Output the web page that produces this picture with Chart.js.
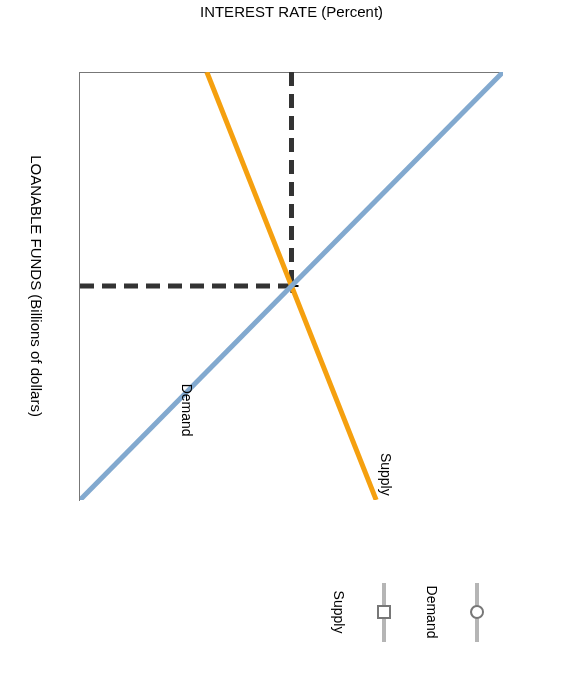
<!DOCTYPE html>
<html><head><meta charset="utf-8">
<script src="https://cdn.jsdelivr.net/npm/chart.js@4"></script>
<style>html,body{margin:0;padding:0;background:#fff;overflow:hidden}
#wrap{position:absolute;left:583px;top:0;width:700px;height:583px;transform-origin:0 0;transform:rotate(90deg)}</style>
</head><body>
<div id="wrap"><canvas id="c" width="700" height="583"></canvas></div>
<script>
const demandX=[0,100], demandY=[100,0];
const supplyX=[0,100], supplyY=[30,70];
const eqX=50, eqY=50;
const seriesNames=['Demand','Supply'];
const curveLabels=[{text:'Demand',x:79,y:25},{text:'Supply',x:94,y:72}];
const xTitle='LOANABLE FUNDS (Billions of dollars)';
const yTitle='INTEREST RATE (Percent)';
const FONT='"Liberation Sans", Arial, sans-serif';
const pts=(xs,ys)=>xs.map((x,i)=>({x,y:ys[i]}));
const overlay={id:'overlay',afterDraw(ch){
  const c=ch.ctx,xs=ch.scales.x,ys=ch.scales.y;
  c.save();c.fillStyle='#000';c.font='14px '+FONT;c.textAlign='center';c.textBaseline='middle';
  curveLabels.forEach(l=>c.fillText(l.text,xs.getPixelForValue(l.x),ys.getPixelForValue(l.y)));
  const items=[{n:seriesNames[0],style:'circle',y:106},{n:seriesNames[1],style:'rect',y:199}];
  items.forEach(it=>{
    c.strokeStyle='#b5b5b5';c.lineWidth=4;c.beginPath();c.moveTo(583,it.y);c.lineTo(642,it.y);c.stroke();
    c.fillStyle='#fff';c.strokeStyle='#777';c.lineWidth=2;c.beginPath();
    if(it.style==='circle'){c.arc(612,it.y,6,0,Math.PI*2);}else{c.rect(606,it.y-6,12,12);}
    c.fill();c.stroke();
    c.fillStyle='#000';c.fillText(it.n,612,it.y+46);
  });
  c.restore();
}};
new Chart(document.getElementById('c'),{
  type:'scatter',
  data:{datasets:[
    {label:seriesNames[0],data:pts(demandX,demandY),showLine:true,borderColor:'#82a9cf',borderWidth:5,pointRadius:0},
    {label:seriesNames[1],data:pts(supplyX,supplyY),showLine:true,borderColor:'#f5a00f',borderWidth:5,pointRadius:0},
    {label:'h',data:[{x:0,y:eqY},{x:eqX,y:eqY}],showLine:true,borderColor:'#333',borderWidth:5,borderDash:[14,8],pointRadius:0},
    {label:'v',data:[{x:eqX,y:0},{x:eqX,y:eqY}],showLine:true,borderColor:'#333',borderWidth:5,borderDash:[14,8],pointRadius:0},
    {label:'eq',data:[{x:eqX,y:eqY}],pointStyle:'cross',pointRadius:7,borderColor:'#000',borderWidth:2}
  ]},
  options:{responsive:false,animation:false,
    layout:{padding:{top:80,right:200,left:0,bottom:0}},
    plugins:{legend:{display:false},tooltip:{enabled:false}},
    scales:{
      x:{min:0,max:100,ticks:{display:false},grid:{display:false},border:{display:true,color:'#777',width:1},
         title:{display:true,text:xTitle,color:'#000',font:{size:15,family:FONT},padding:{top:4,bottom:26}},
         afterFit(s){s.height=80;}},
      y:{min:0,max:100,ticks:{display:false},grid:{display:false},border:{display:true,color:'#777',width:1},
         title:{display:true,text:yTitle,color:'#000',font:{size:15,family:FONT},padding:{top:4,bottom:4}},
         afterFit(s){s.width=72;}}
    }},
  plugins:[overlay]
});
</script></body></html>
